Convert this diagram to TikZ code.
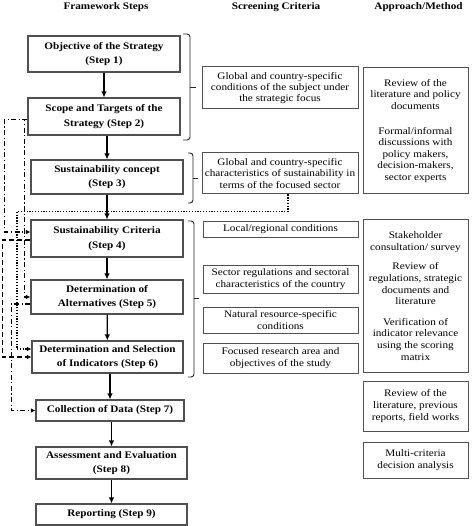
\documentclass[tikz,border=0pt]{standalone}
\usepackage{fontspec}
\setmainfont{Liberation Serif}[FakeStretch=1.12]
\usetikzlibrary{arrows.meta}
\definecolor{boxgray}{RGB}{80,80,80}
\begin{document}
\begin{tikzpicture}[x=1pt,y=-1pt,
  stepbox/.style={draw=boxgray,line width=1.1pt,inner sep=0pt,align=center,
    font=\bfseries\fontsize{10}{14.5}\selectfont},
  critbox/.style={draw=boxgray,line width=1pt,inner sep=0pt,align=center,
    font=\fontsize{10}{11.3}\selectfont},
  methbox/.style={draw=boxgray,line width=1pt,inner sep=0pt,align=center,
    font=\fontsize{10}{11.6}\selectfont},
  head/.style={inner sep=0pt,font=\bfseries\fontsize{10}{12}\selectfont},
  flow/.style={-{Latex[length=6pt,width=5.5pt]},line width=1.3pt},
  fb/.style={-{Latex[length=4.5pt,width=4.5pt]},line width=1.3pt},
  dashdot/.style={dash pattern=on 5pt off 2.5pt on 1.2pt off 2.5pt},
  longdash/.style={dash pattern=on 5pt off 3pt},
  dots/.style={line width=1.4pt,dash pattern=on 1.3pt off 1.5pt},
  bracket/.style={line width=0.9pt,rounded corners=3pt,draw=black!85}]
\useasboundingbox (0,0) rectangle (474,526);

% headers
\node[head] (h1) at (106,7) {Framework Steps};
\node[head] (h2) at (276,7) {Screening Criteria};
\node[head] (h3) at (418.5,7) {Approach/Method};

% framework steps
\node[stepbox,minimum width=152,minimum height=36] (s1) at (104,54) {Objective of the Strategy\\(Step 1)};
\node[stepbox,minimum width=152,minimum height=37] (s2) at (104,116.5) {Scope and Targets of the\\Strategy (Step 2)};
\node[stepbox,minimum width=152,minimum height=34] (s3) at (107,177) {Sustainability concept\\(Step 3)};
\node[stepbox,minimum width=152,minimum height=37] (s4) at (107,238.5) {Sustainability Criteria\\(Step 4)};
\node[stepbox,minimum width=152,minimum height=34] (s5) at (107,297) {Determination of\\Alternatives (Step 5)};
\node[stepbox,minimum width=151,minimum height=32] (s6) at (107.5,357) {Determination and Selection\\of Indicators (Step 6)};
\node[stepbox,minimum width=148,minimum height=21] (s7) at (110,410.5) {Collection of Data (Step 7)};
\node[stepbox,minimum width=151,minimum height=32] (s8) at (111.5,463) {Assessment and Evaluation\\(Step 8)};
\node[stepbox,minimum width=151,minimum height=21] (s9) at (111.5,514.5) {Reporting (Step 9)};

% screening criteria
\node[critbox,minimum width=156,minimum height=42] (c1) at (280,88) {Global and country-specific\\conditions of the subject under\\the strategic focus};
\node[critbox,minimum width=156,minimum height=41] (c2) at (280,173.5) {Global and country-specific\\characteristics of sustainability in\\terms of the focused sector};
\node[critbox,minimum width=155,minimum height=15] (c3) at (280.5,229.5) {Local/regional conditions};
\node[critbox,minimum width=155,minimum height=28] (c4) at (280.5,279) {Sector regulations and sectoral\\characteristics of the country};
\node[critbox,minimum width=155,minimum height=26] (c5) at (280.5,320) {Natural resource-specific\\conditions};
\node[critbox,minimum width=155,minimum height=30] (c6) at (280.5,358) {Focused research area and\\objectives of the study};

% approach / method
\node[methbox,minimum width=105,minimum height=126] (a1) at (415.5,131) {Review of the\\literature and policy\\documents\\[13pt]Formal/informal\\discussions with\\policy makers,\\decision-makers,\\sector experts};
\node[methbox,minimum width=105,minimum height=152] (a2) at (415.5,296) {Stakeholder\\consultation/ survey\\[8pt]Review of\\regulations, strategic\\documents and\\literature\\[9pt]Verification of\\indicator relevance\\using the scoring\\matrix};
\node[methbox,minimum width=105,minimum height=50] (a3) at (415.5,406) {Review of the\\literature, previous\\reports, field works};
\node[methbox,minimum width=105,minimum height=36] (a4) at (415.5,460) {Multi-criteria\\decision analysis};

% brackets
\draw[bracket] (183,34) -- (190,34) -- (190,140) -- (183,140);
\draw[line width=0.9pt,draw=black!85] (190,87) -- (196,87);
\draw[bracket] (188,153) -- (193,153) -- (193,203) -- (188,203);
\draw[line width=0.9pt,draw=black!85] (193,178) -- (198,178);
\draw[bracket] (188,221) -- (194,221) -- (194,377) -- (188,377);
\draw[line width=0.9pt,draw=black!85] (194,298) -- (199,298);

% main flow
\draw[flow] (s1) -- (s2);
\draw[flow] (s3.north |- s2.south) -- (s3.north);
\draw[flow] (s3) -- (s4);
\draw[flow] (s4) -- (s5);
\draw[flow] (s5) -- (s6);
\draw[flow] (s7.north |- s6.south) -- (s7.north);
\draw[flow] (s8.north |- s7.south) -- (s8.north);
\draw[flow] (s8) -- (s9);

% feedback / information lines
\draw[fb,dashdot] ([yshift=-3pt]s2.west) -- ++(-23,0) |- ([yshift=6.5pt]s4.west);
\draw[fb,dashdot] ([yshift=-3pt]s2.west) -- ++(-3,0) |- (s5.west);
\draw[fb,longdash] ([yshift=-1.5pt]s4.west) -- ++(-28,0) |- (s6.west);
\draw[fb,dashdot] ([yshift=-7pt]s5.west) -- ++(-19,0) |- (s7.west);
\draw[fb,dots] ([xshift=8pt]c2.south) -- ++(0,17) -- ++(-271,0) |- ([yshift=8pt]s6.west);
\end{tikzpicture}
\end{document}
